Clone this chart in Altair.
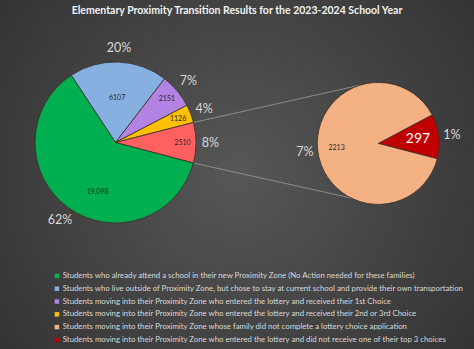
import math
import altair as alt
import pandas as pd

W, H = 474, 349

# ---------------- data ----------------
legend_labels = [
    "Students who already attend a school in their new Proximity Zone (No Action needed for these families)",
    "Students who live outside of Proximity Zone, but chose to stay at current school and provide their own transportation",
    "Students moving into their Proximity Zone who entered the lottery and received their 1st Choice",
    "Students moving into their Proximity Zone who entered the lottery and received their 2nd or 3rd Choice",
    "Students moving into their Proximity Zone whose family did not complete a lottery choice application",
    "Students moving into their Proximity Zone who entered the lottery and did not receive one of their top 3 choices",
]
other_label = "Other"

main_keys = [legend_labels[1], legend_labels[2], legend_labels[3], other_label, legend_labels[0]]
main_values = [6107, 2151, 1126, 2510, 19098]
main_pct = ["20%", "7%", "4%", "8%", "62%"]
main_counts = ["6107", "2151", "1126", "2510", "19,098"]

sub_keys = [legend_labels[5], legend_labels[4]]
sub_values = [297, 2213]
sub_pct = ["1%", "7%"]
sub_counts = ["297", "2213"]

title_text = "Elementary Proximity Transition Results for the 2023-2024 School Year"

colors = ["#00B050", "#86B0E0", "#B383E3", "#FFC000", "#F4B183", "#C00000", "#FF6161"]

# ---------------- layout ----------------
FONT = "Lato"
MCX, MCY, MR = 115.5, 142.5, 80.5
SCX, SCY, SR = 378.3, 143.4, 61
TAU = 2 * math.pi
main_start = math.radians(326.6)
sub_start = math.radians(62.0)

main_df = pd.DataFrame({"cat": main_keys, "value": main_values, "pct": main_pct,
                        "cnt": main_counts, "ord": list(range(len(main_keys)))})
sub_df = pd.DataFrame({"cat": sub_keys, "value": sub_values, "pct": sub_pct,
                       "cnt": sub_counts, "ord": list(range(len(sub_keys)))})

color_scale = alt.Scale(domain=legend_labels + [other_label], range=colors)
legend = alt.Legend(title=None, orient="none", legendX=53, legendY=272, symbolType="square",
                    symbolSize=20, symbolStrokeWidth=0, labelFontSize=7.8, labelColor="#d9d9d9",
                    labelFont=FONT, labelLimit=600, rowPadding=3.8, labelOffset=2,
                    values=legend_labels, direction="vertical", padding=0)

# background gradient
grad = alt.Gradient(gradient="radial",
                    stops=[alt.GradientStop(color="#575757", offset=0),
                           alt.GradientStop(color="#2c2c2c", offset=1)],
                    x1=0.5, y1=0.5, r1=0, x2=0.5, y2=0.5, r2=0.75)
bg = alt.Chart(pd.DataFrame({"k": [0]})).mark_rect(fill=grad).encode(
    x=alt.value(0), x2=alt.value(W), y=alt.value(0), y2=alt.value(H))

# connector lines computed from pie geometry
total = sum(main_values)
pre = sum(main_values[:3])
a_top = main_start + pre / total * TAU
a_bot = main_start + (pre + main_values[3]) / total * TAU
def pt(cx, cy, r, a):
    return cx + r * math.sin(a), cy - r * math.cos(a)
p1 = pt(MCX, MCY, MR, a_top)
p2 = pt(MCX, MCY, MR, a_bot)
q1 = pt(SCX, SCY, SR, math.radians(-17))
q2 = pt(SCX, SCY, SR, math.radians(206.5))
rules = []
for (pa, pb) in [(p1, q1), (p2, q2)]:
    rules.append(alt.Chart(pd.DataFrame({"k": [0]})).mark_rule(color="#9a9a9a", strokeWidth=0.8).encode(
        x=alt.value(pa[0]), y=alt.value(pa[1]), x2=alt.value(pb[0]), y2=alt.value(pb[1])))

# main pie
mbase = alt.Chart(main_df).encode(
    theta=alt.Theta("value:Q", stack=True, scale=alt.Scale(range=[main_start, main_start + TAU])),
    order=alt.Order("ord:Q"), x=alt.value(MCX), y=alt.value(MCY))
main_arc = mbase.mark_arc(outerRadius=MR, stroke="#3a2e26", strokeWidth=0.8).encode(
    color=alt.Color("cat:N", scale=color_scale, legend=legend))
main_pct_t = mbase.mark_text(radius=95, fontSize=12.5, color="#d9d9d9", font=FONT).encode(text="pct:N")

def sel(keys):
    return alt.condition(alt.FieldOneOfPredicate(field="cat", oneOf=keys), alt.value(1), alt.value(0))

cnt_style = dict(fontSize=7, color="#262626", font=FONT)
main_cnt_blue = mbase.mark_text(radius=45, **cnt_style).encode(text="cnt:N", opacity=sel([main_keys[0]]))
main_cnt_small = mbase.mark_text(radius=67, **cnt_style).encode(text="cnt:N", opacity=sel(main_keys[1:4]))
main_cnt_green = mbase.mark_text(radius=53, dx=13, dy=6, **cnt_style).encode(text="cnt:N", opacity=sel([main_keys[4]]))

# sub pie
sbase = alt.Chart(sub_df).encode(
    theta=alt.Theta("value:Q", stack=True, scale=alt.Scale(range=[sub_start, sub_start + TAU])),
    order=alt.Order("ord:Q"), x=alt.value(SCX), y=alt.value(SCY))
sub_arc = sbase.mark_arc(outerRadius=SR, stroke="#3a2e26", strokeWidth=0.8).encode(
    color=alt.Color("cat:N", scale=color_scale, legend=legend))
sub_pct_t = sbase.mark_text(radius=74, fontSize=12.5, color="#d9d9d9", font=FONT).encode(text="pct:N")
sub_cnt_big = sbase.mark_text(radius=40, fontSize=14, color="#ffffff", font=FONT).encode(
    text="cnt:N", opacity=sel([sub_keys[0]]))
sub_cnt_small = sbase.mark_text(radius=42, **cnt_style).encode(text="cnt:N", opacity=sel([sub_keys[1]]))

title = alt.Chart(pd.DataFrame({"t": [title_text]})).mark_text(
    fontSize=10.5, fontWeight="bold", color="#f2f2f2", font=FONT).encode(
    text="t:N", x=alt.value(W / 2), y=alt.value(11))

chart = alt.layer(bg, *rules, main_arc, main_pct_t, main_cnt_blue, main_cnt_small, main_cnt_green,
                  sub_arc, sub_pct_t, sub_cnt_big, sub_cnt_small, title).resolve_scale(
    theta="independent").properties(
    width=W, height=H, padding=0, autosize="none", background="#3a3a3a").configure_view(stroke=None)

chart.save("out.html", embed_options={"renderer": "svg", "actions": False})
